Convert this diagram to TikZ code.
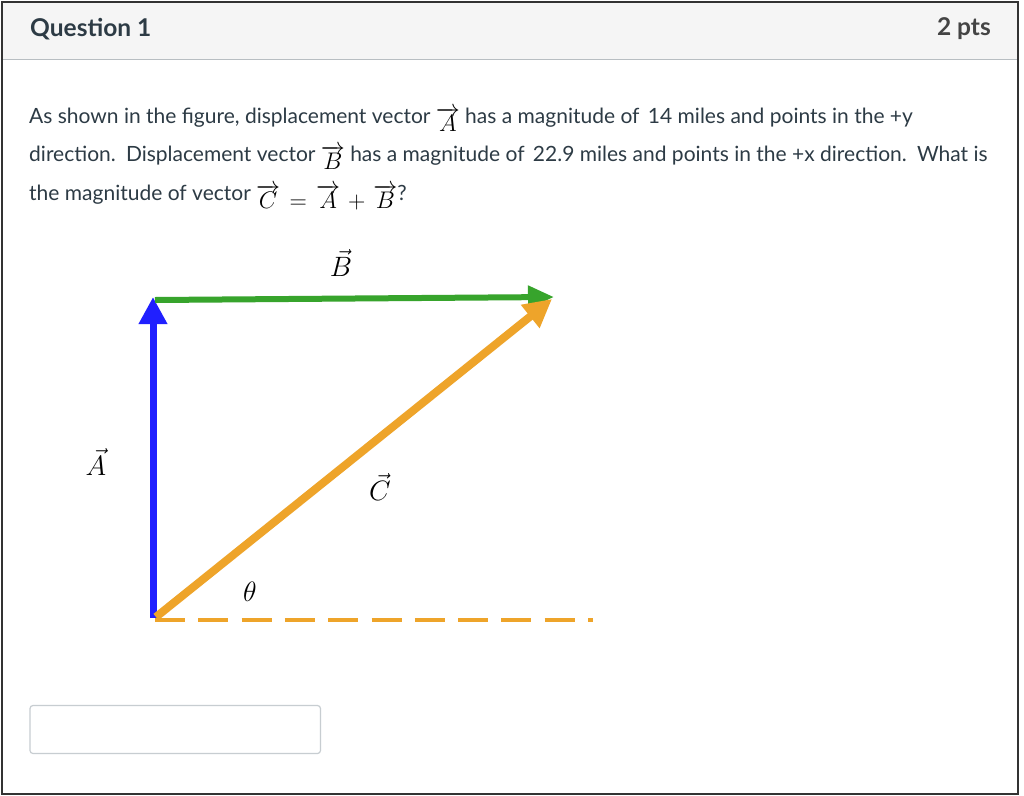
\RequirePackage{fix-cm}
\documentclass[tikz,border=0pt]{standalone}
\usepackage{fontspec}
\setmainfont{Lato}
\usetikzlibrary{arrows.meta}
\definecolor{hdrfill}{HTML}{F5F5F5}
\definecolor{hdrline}{HTML}{B8BEC2}
\definecolor{frameline}{HTML}{333333}
\definecolor{textcol}{HTML}{2D3B45}
\definecolor{ptscol}{HTML}{444444}
\definecolor{vecblue}{HTML}{2020FF}
\definecolor{vecgreen}{HTML}{37A42C}
\definecolor{vecorange}{HTML}{EEA42A}
\definecolor{boxline}{HTML}{C7CDD1}
\tikzset{
  bodytext/.style={anchor=base west, inner sep=0pt, text=textcol, font=\fontsize{21}{24}\selectfont},
  hdrtext/.style={inner sep=0pt, text=textcol, font=\bfseries\fontsize{24.5}{28}\selectfont},
  veclabel/.style={inner sep=0pt, text=black, font=\fontsize{28}{30}\selectfont},
  vecA/.style={draw=vecblue, line width=7pt, -{Triangle[length=27pt,width=27pt]}},
  vecB/.style={draw=vecgreen, line width=6pt, -{Triangle[length=26pt,width=22pt]}},
  vecC/.style={draw=vecorange, line width=8pt, -{Triangle[length=28pt,width=28pt]}},
  dashref/.style={draw=vecorange, line width=4pt, dash pattern=on 30pt off 13.3pt},
}
\newcommand{\lowmath}[1]{\raisebox{-8.5pt}{\fontsize{24}{26}\selectfont\color{black}$#1$}}
\newcommand{\dsp}{\hspace{3pt}}
\begin{document}
\begin{tikzpicture}[x=1pt,y=-1pt]
\useasboundingbox (0,0) rectangle (1024,795);
\fill[white] (0,0) rectangle (1024,795);
% header band
\fill[hdrfill] (1.5,1.5) rectangle (1017.5,59);
\draw[hdrline, line width=1.5pt] (1.5,59.5) -- (1017.5,59.5);
\draw[frameline, line width=2pt] (1.5,1.5) rectangle (1017.5,793.5);
\node[hdrtext, anchor=west] (q) at (30,29) {Question 1};
\node[hdrtext, anchor=east, text=ptscol] (pts) at (991,29) {2 pts};
% question text
\node[bodytext] (l1) at (29,123) {As shown in the figure, displacement vector \lowmath{\overrightarrow{A}} has a magnitude of\dsp{} 14 miles and points in the +y};
\node[bodytext] (l2) at (29,161) {direction.\dsp{} Displacement vector \lowmath{\overrightarrow{B}} has a magnitude of\dsp{} 22.9 miles and points in the +x direction.\dsp{} What is};
\node[bodytext] (l3) at (29,200) {the magnitude of vector \lowmath{\overrightarrow{C} \mkern2mu = \mkern2mu \overrightarrow{A} \mkern2mu + \mkern2mu \overrightarrow{B}}?};
% diagram
\coordinate (O) at (153,618);
\coordinate (Atip) at (153,297);
\coordinate (Bstart) at (155,300);
\coordinate (Btip) at (554,297);
\coordinate (Cstart) at (156,617);
\coordinate (Ctip) at (552,299);
\coordinate (Dstart) at (155,620);
\coordinate (Dend) at (593,620);
\draw[dashref] (Dstart) -- (Dend);
\draw[vecA] (O) -- (Atip);
\draw[vecB] (Bstart) -- (Btip);
\draw[vecC] (Cstart) -- (Ctip);
\node[veclabel] (labB) at (341,263) {$\vec{B}$};
\node[veclabel] (labA) at (96,462) {$\vec{A}$};
\node[veclabel] (labC) at (380,487) {$\vec{C}$};
\node[veclabel] (labT) at (250,592) {$\theta$};
% answer box
\draw[boxline, line width=1.2pt, rounded corners=3pt] (30,705.5) rectangle (320.5,753.5);
\end{tikzpicture}
\end{document}
